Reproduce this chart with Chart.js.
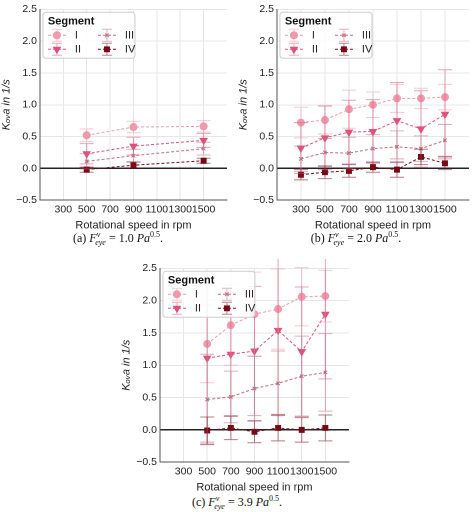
<!DOCTYPE html>
<html><head><meta charset="utf-8">
<script src="https://cdn.jsdelivr.net/npm/chart.js@4"></script>
<style>
body{margin:0;background:#fff;width:474px;height:512px;position:relative;overflow:hidden}
canvas{position:absolute}
.cap{position:absolute;font-family:"Liberation Serif",serif;font-size:12px;color:#111;text-align:center;width:200px;white-space:nowrap}
.cap i{font-style:italic}
</style></head><body>
<canvas id="ca" style="left:0;top:0"></canvas>
<canvas id="cb" style="left:237px;top:0"></canvas>
<canvas id="cc" style="left:120px;top:259px"></canvas>
<div class="cap" style="left:18px;top:230px">(a) <i>F</i><sup style="font-size:8px"><i>v</i></sup><sub style="font-size:8px;margin-left:-5px"><i>eye</i></sub> = 1.0 <i>Pa</i><sup style="font-size:8px">0.5</sup>.</div>
<div class="cap" style="left:256px;top:230px">(b) <i>F</i><sup style="font-size:8px"><i>v</i></sup><sub style="font-size:8px;margin-left:-5px"><i>eye</i></sub> = 2.0 <i>Pa</i><sup style="font-size:8px">0.5</sup>.</div>
<div class="cap" style="left:137px;top:494px">(c) <i>F</i><sup style="font-size:8px"><i>v</i></sup><sub style="font-size:8px;margin-left:-5px"><i>eye</i></sub> = 3.9 <i>Pa</i><sup style="font-size:8px">0.5</sup>.</div>
<script>
const xTicks=[300,500,700,900,1100,1300,1500];
const segNames=['I','II','III','IV'];
const aX=[500,900,1500];
const aI=[0.52,0.65,0.66], aII=[0.23,0.35,0.44], aIII=[0.11,0.20,0.31], aIV=[-0.02,0.05,0.12];
const aEI=[0.10,0.09,0.09], aEII=[0.16,0.14,0.11], aEIII=[0.12,0.10,0.10], aEIV=[0.04,0.05,0.04];
const bX=[300,500,700,900,1100,1300,1500];
const bI=[0.72,0.76,0.93,1.00,1.10,1.10,1.12], bII=[0.32,0.48,0.57,0.58,0.75,0.62,0.85];
const bIII=[0.15,0.25,0.24,0.31,0.34,0.31,0.44], bIV=[-0.10,-0.06,-0.04,0.02,-0.02,0.18,0.08];
const bEI=[0.24,0.22,0.30,0.20,0.22,0.16,0.20], bEII=[0.40,0.50,0.50,0.50,0.60,0.60,0.70];
const bEIII=[0.20,0.22,0.25,0.22,0.25,0.20,0.25], bEIV=[0.08,0.10,0.10,0.08,0.12,0.12,0.10];
const cX=[500,700,900,1100,1300,1500];
const cI=[1.33,1.62,1.79,1.87,2.06,2.07], cII=[1.11,1.17,1.22,1.54,1.21,1.79];
const cIII=[0.47,0.51,0.64,0.72,0.83,0.89], cIV=[-0.01,0.03,-0.03,0.03,0.00,0.03];
const cEI=[0.60,0.62,0.65,0.62,0.45,0.40], cEII=[1.30,0.95,1.0,1.3,1.0,1.0];
const cEIII=[0.70,0.40,0.50,0.50,0.62,0.60], cEIV=[0.21,0.18,0.17,0.20,0.19,0.20];

const colors=['#f099aa','#e0527a','#c06d80','#7a0a16'];
const styles=['circle','triangle','crossRot','rect'];
const rots=[0,180,0,0];
const sizes=[3.5,4,2.5,3.5];
const FONT='"Liberation Sans", Arial, sans-serif';

const errPlugin={id:'err',afterDatasetsDraw(ch){
  const ctx=ch.ctx,y=ch.scales.y;
  ch.data.datasets.forEach((ds,di)=>{
    const m=ch.getDatasetMeta(di);
    ctx.save();ctx.strokeStyle=ds.errColor;ctx.lineWidth=1;
    m.data.forEach((p,i)=>{
      const v=ds.data[i].y,e=ds.err[i];
      const y1=y.getPixelForValue(v-e),y2=y.getPixelForValue(v+e);
      ctx.beginPath();ctx.moveTo(p.x,y1);ctx.lineTo(p.x,y2);
      ctx.moveTo(p.x-7,y1);ctx.lineTo(p.x+7,y1);ctx.moveTo(p.x-7,y2);ctx.lineTo(p.x+7,y2);ctx.stroke();
    });
    ctx.restore();
  });
}};
const legPlugin={id:'leg',afterDraw(ch){
  const ctx=ch.ctx,a=ch.chartArea,L=a.left+3,T=a.top+3;
  ctx.save();
  ctx.fillStyle='rgba(255,255,255,0.85)';ctx.strokeStyle='#ccc';ctx.lineWidth=1;
  ctx.beginPath();ctx.roundRect(L,T,92,46,3);ctx.fill();ctx.stroke();
  ctx.fillStyle='#111';ctx.font='bold 11px '+FONT;ctx.textBaseline='middle';
  ctx.fillText('Segment',L+5,T+9);
  ctx.font='11px '+FONT;
  segNames.forEach((n,i)=>{
    const cx=L+(i<2?14:64),cy=T+(i%2?37:23);
    ctx.strokeStyle=colors[i];ctx.setLineDash([3,2]);ctx.lineWidth=1;
    ctx.beginPath();ctx.moveTo(cx-9,cy);ctx.lineTo(cx+9,cy);ctx.stroke();ctx.setLineDash([]);
    ctx.globalAlpha=0.5;ctx.beginPath();ctx.moveTo(cx,cy-6);ctx.lineTo(cx,cy+6);ctx.moveTo(cx-5,cy-6);ctx.lineTo(cx+5,cy-6);ctx.moveTo(cx-5,cy+6);ctx.lineTo(cx+5,cy+6);ctx.stroke();ctx.globalAlpha=1;
    ctx.fillStyle=colors[i];
    Chart.helpers.drawPoint(ctx,{pointStyle:styles[i],radius:sizes[i],rotation:rots[i],borderWidth:1},cx,cy);
    ctx.fillStyle='#222';ctx.fillText(n,cx+18,cy);
  });
  ctx.restore();
}};
function make(id,w,h,xs,ys,es){
  const cv=document.getElementById(id);cv.width=w;cv.height=h;cv.style.width=w+'px';cv.style.height=h+'px';
  new Chart(cv,{type:'line',
    data:{datasets:ys.map((s,i)=>({label:segNames[i],data:xs.map((x,j)=>({x,y:s[j]})),err:es[i],
      borderColor:colors[i],backgroundColor:colors[i],borderDash:[3,2],borderWidth:1,
      pointStyle:styles[i],pointRadius:sizes[i],pointRotation:rots[i],pointBorderWidth:1,
      errColor:colors[i]+'88',fill:false}))},
    options:{responsive:false,animation:false,devicePixelRatio:2,
      layout:{padding:{top:4,right:3,bottom:0}},
      plugins:{legend:{display:false},tooltip:{enabled:false}},
      scales:{
        x:{type:'linear',min:100,max:1700,afterBuildTicks(s){s.ticks=xTicks.map(v=>({value:v}));},
          ticks:{color:'#222',font:{size:10.5,family:FONT},padding:3,maxRotation:0,autoSkip:false,callback:v=>String(v)},
          grid:{color:'#e6e6e6',drawTicks:false},border:{color:'#555',width:1},
          title:{display:true,text:'Rotational speed in rpm',color:'#222',font:{size:11,family:FONT},padding:0}},
        y:{min:-0.5,max:2.5,ticks:{stepSize:0.5,color:'#222',font:{size:10.5,family:FONT},padding:3,callback:v=>v.toFixed(1).replace('-','−')},
          grid:{color:c=>c.tick&&Math.abs(c.tick.value)<1e-9?'#222':'#e6e6e6',lineWidth:c=>c.tick&&Math.abs(c.tick.value)<1e-9?1.5:1,drawTicks:false},
          border:{color:'#555',width:1},
          title:{display:true,text:'Kₒᵥa in 1/s',color:'#222',font:{size:11,family:FONT,style:'italic'},padding:0}}
      }},
    plugins:[errPlugin,legPlugin]});
}
make('ca',232,232,aX,[aI,aII,aIII,aIV],[aEI,aEII,aEIII,aEIV]);
make('cb',237,232,bX,[bI,bII,bIII,bIV],[bEI,bEII,bEIII,bEIV]);
make('cc',234,235,cX,[cI,cII,cIII,cIV],[cEI,cEII,cEIII,cEIV]);
</script></body></html>
